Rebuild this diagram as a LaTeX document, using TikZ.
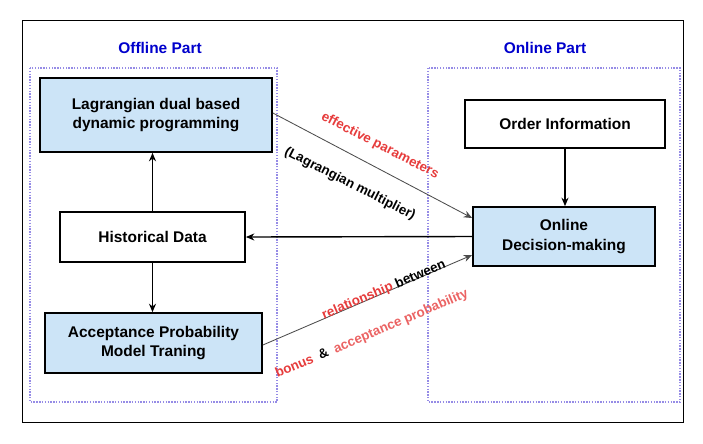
\documentclass[tikz,border=0pt]{standalone}
\usepackage{fontspec}
\setmainfont{Liberation Sans}
\usetikzlibrary{arrows.meta}
\definecolor{boxblue}{RGB}{204,228,247}
\definecolor{dotblue}{RGB}{150,140,230}
\definecolor{lblred}{RGB}{230,60,60}
\begin{document}
\begin{tikzpicture}[x=0.025cm,y=-0.025cm,
  box/.style={draw,line width=1.2pt,align=center,font=\fontsize{11}{14}\selectfont\bfseries,inner sep=0pt},
  part/.style={draw=dotblue,densely dotted,line width=1pt},
  title/.style={text=blue!80!black,font=\fontsize{11}{13}\selectfont\bfseries},
  lbl/.style={font=\fontsize{9.5}{11}\selectfont\bfseries,inner sep=1pt},
  arr/.style={-{Stealth[length=6pt,width=5pt]},line width=1pt},
  thin arr/.style={-{Stealth[length=6pt,width=5pt]},gray!60!black,line width=0.6pt}]
  \useasboundingbox (0,0) rectangle (703,443);
  \draw[line width=0.6pt] (22,20) rectangle (683,422);
  \draw[part] (30,68) rectangle (277,402);
  \draw[part] (428,68) rectangle (680,402);
  \node[title] (offt) at (160,48) {Offline Part};
  \node[title] (onlt) at (545,48) {Online Part};
  % offline boxes
  \node[box,fill=boxblue,minimum width=5.8cm,minimum height=1.85cm] (lagr) at (156,115)
    {Lagrangian dual based\\dynamic programming};
  \node[box,fill=white,minimum width=4.625cm,minimum height=1.25cm] (hist) at (152.5,237) {Historical Data};
  \node[box,fill=boxblue,minimum width=5.425cm,minimum height=1.5cm] (acc) at (153.5,343)
    {Acceptance Probability\\Model Traning};
  % online boxes
  \node[box,fill=white,minimum width=5cm,minimum height=1.2cm] (ord) at (565,124) {Order Information};
  \node[box,fill=boxblue,minimum width=4.55cm,minimum height=1.475cm] (dec) at (564,236.5)
    {Online\\Decision-making};
  % connectors
  \draw[arr] (hist.north) -- (hist.north |- lagr.south);
  \draw[arr] (hist.south) -- (hist.south |- acc.north);
  \draw[arr] (ord.south) -- (ord.south |- dec.north);
  \draw[arr] (dec.west) -- (hist.east);
  \draw[thin arr] (lagr.east |- 0,113) -- (dec.west |- 0,218);
  \draw[thin arr] (acc.east |- 0,345) -- (dec.west |- 0,255);
  % labels
  \node[lbl,text=lblred,rotate=-27] (eff) at (380,146) {effective parameters};
  \node[lbl,rotate=-27] (mult) at (350,184) {(Lagrangian multiplier)};
  \node[lbl,rotate=23] (rel) at (384,290) {\textcolor{lblred}{relationship} between};
  \node[lbl,rotate=23] (bon) at (372,334) {\textcolor{lblred}{bonus}\,\,\,\&\,\,\,\textcolor{lblred!80}{acceptance probability}};
\end{tikzpicture}
\end{document}
